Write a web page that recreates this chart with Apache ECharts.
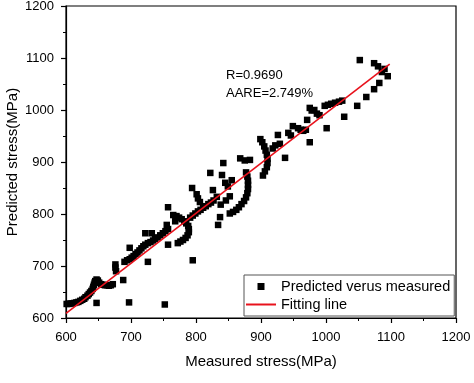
<!DOCTYPE html>
<html>
<head>
<meta charset="utf-8">
<script src="https://cdn.jsdelivr.net/npm/echarts@6/dist/echarts.min.js"></script>
<style>html,body{margin:0;padding:0;background:#fff}#c{width:474px;height:383px}</style>
</head>
<body>
<div id="c"></div>
<script>
var measured = [601,604,607,610,613,616,619,622,625,628,630,633,635,637,639,641,642,643,644,645,647,649,
651,654,657,660,663,666,669,672,
647,697,752,
676,676,677,688,
690,694,698,701,704,707,710,713,716,719,722,698,726,722,732,
726,730,734,737,741,745,749,753,757,757,755,757,765,768,
770,774,778,782,785,788,789,789,787,784,780,776,772,
791,795,799,803,807,811,815,819,823,827,795,
794,801,803,806,822,826,832,834,837,840,842,845,849,855,
838,846,852,
877,879,880,880,880,879,877,874,870,866,862,857,852,868,875,883,
899,902,905,907,909,910,910,909,906,903,
918,922,926,929,937,942,946,949,957,961,965,969,971,975,978,982,986,975,990,
998,1003,1008,1014,1020,1025,1001,1028,1048,1062,1074,1082,1095,1052,1074,1080,1086,1090];
var predicted = [627,627,628,628,629,630,631,633,635,637,640,643,646,649,652,656,660,664,668,671,674,672,
668,665,664,663,663,662,663,665,
629,630,626,
703,697,690,673,
708,711,713,716,719,723,726,730,734,738,741,735,708,763,763,
744,746,749,752,755,759,763,767,771,741,779,813,798,786,
796,793,790,786,782,777,771,765,759,754,750,747,744,
793,797,801,805,808,812,815,819,822,826,711,
850,838,830,823,879,846,833,779,794,875,898,860,853,865,
818,826,834,
880,872,864,856,848,840,832,825,819,813,808,804,801,907,903,904,
944,938,930,922,914,906,898,890,882,874,
926,932,952,935,908,956,951,969,965,962,960,962,981,938,999,1000,993,1004,990,
1008,1010,1012,1014,1016,1018,965,987,1008,1025,1040,1052,1065,1096,1090,1084,1073,1079];
var fitX = [600, 1098];
var fitY = [609, 1088];
var xTicks = [600, 700, 800, 900, 1000, 1100, 1200];
var yTicks = [600, 700, 800, 900, 1000, 1100, 1200];
var annotations = ['R=0.9690', 'AARE=2.749%'];

var scatterData = measured.map(function (m, i) { return [m, predicted[i]]; });
var fitData = fitX.map(function (x, i) { return [x, fitY[i]]; });
var FONT = 'Liberation Sans, Arial, sans-serif';

var chart = echarts.init(document.getElementById('c'), null, {renderer: 'canvas'});
chart.setOption({
  animation: false,
  backgroundColor: '#fff',
  grid: {left: 66, right: 18, top: 6, bottom: 65, containLabel: false, outerBoundsMode: 'none',
    show: true, borderColor: '#000', borderWidth: 1.2, backgroundColor: 'transparent'},
  title: {
    text: annotations.join('\n'),
    left: 221, top: 61,
    textStyle: {fontFamily: FONT, fontSize: 13, fontWeight: 'normal', color: '#000', lineHeight: 18}
  },
  legend: {
    orient: 'vertical',
    left: 244, top: 275,
    padding: [4, 4, 4, 2],
    itemGap: 3,
    itemWidth: 30, itemHeight: 7,
    itemTextGap: 4,
    symbolKeepAspect: true,
    backgroundColor: '#fff',
    borderColor: '#555', borderWidth: 1,
    textStyle: {fontFamily: FONT, fontSize: 14.5, color: '#000'},
    data: [
      {name: 'Predicted verus measured', icon: 'path://M0,0L10,0L10,10L0,10Z', itemStyle: {color: '#000'}},
      {name: 'Fitting line', icon: 'path://M0,0L30,0L30,2L0,2Z', itemStyle: {color: '#e8121c'}}
    ]
  },
  xAxis: {
    type: 'value', min: 600, max: 1200, interval: 100,
    name: 'Measured stress(MPa)', nameLocation: 'middle', nameGap: 36, nameMoveOverlap: false,
    nameTextStyle: {fontFamily: FONT, fontSize: 15, color: '#000'},
    axisLine: {show: true, onZero: false, lineStyle: {color: '#000', width: 1.2}},
    axisTick: {show: true, inside: false, length: 5, lineStyle: {color: '#000', width: 1.2}},
    minorTick: {show: true, splitNumber: 2, length: 3, lineStyle: {color: '#000', width: 1}},
    axisLabel: {fontFamily: FONT, fontSize: 13, color: '#000', margin: 13,
      formatter: function (v) { return xTicks.indexOf(v) >= 0 ? String(v) : ''; }},
    splitLine: {show: false}
  },
  yAxis: {
    type: 'value', min: 600, max: 1200, interval: 100,
    name: 'Predicted stress(MPa)', nameLocation: 'middle', nameGap: 46, nameMoveOverlap: false,
    nameTextStyle: {fontFamily: FONT, fontSize: 15, color: '#000'},
    axisLine: {show: true, onZero: false, lineStyle: {color: '#000', width: 1.2}},
    axisTick: {show: true, inside: false, length: 5, lineStyle: {color: '#000', width: 1.2}},
    minorTick: {show: true, splitNumber: 2, length: 3, lineStyle: {color: '#000', width: 1}},
    axisLabel: {fontFamily: FONT, fontSize: 13, color: '#000', margin: 12,
      formatter: function (v) { return yTicks.indexOf(v) >= 0 ? String(v) : ''; }},
    splitLine: {show: false}
  },
  series: [
    {
      name: 'Predicted verus measured', type: 'scatter',
      symbol: 'rect', symbolSize: 6.5,
      itemStyle: {color: '#000', opacity: 1},
      data: scatterData, z: 2
    },
    {
      name: 'Fitting line', type: 'line',
      symbol: 'none', showSymbol: false,
      lineStyle: {color: '#e8121c', width: 1.6},
      itemStyle: {color: '#e8121c'},
      data: fitData, z: 3
    }
  ]
});
</script>
</body>
</html>
